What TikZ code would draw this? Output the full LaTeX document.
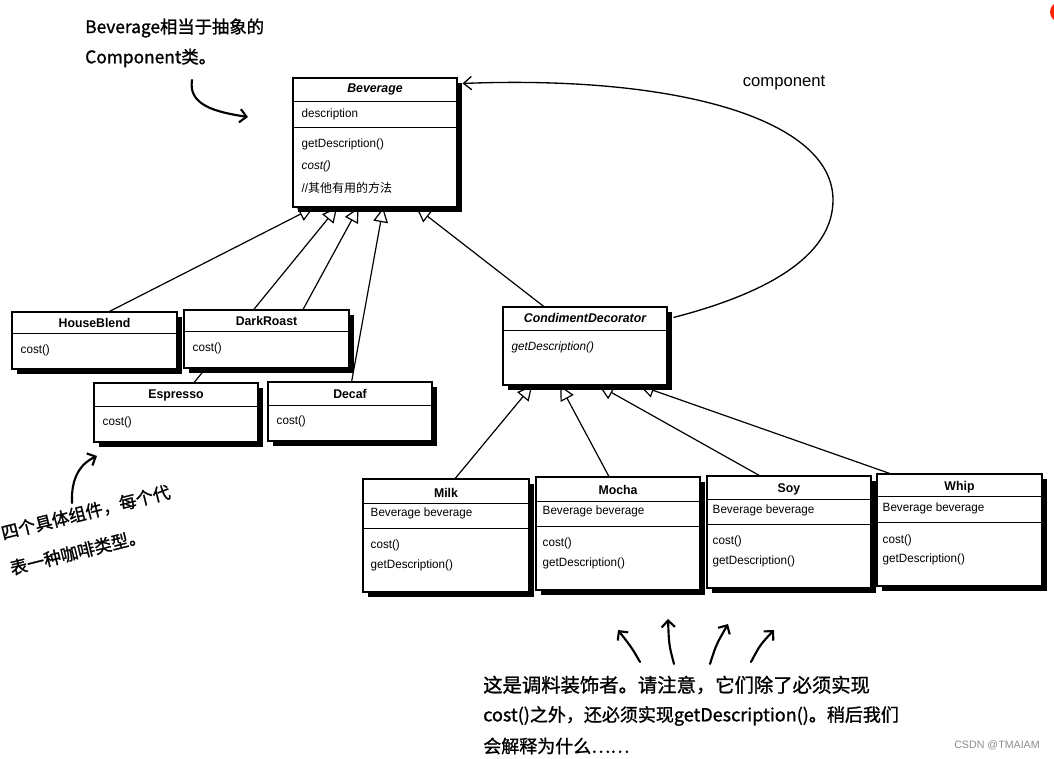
\documentclass[tikz,border=0pt]{standalone}
\usepackage{fontspec}
\setmainfont{Liberation Sans}
\newfontfamily\umlfont[FakeStretch=0.97]{Liberation Sans}
\newfontfamily\cjkfont{Noto Sans CJK SC}
\newfontfamily\handfont[FakeBold=1.2]{Noto Sans CJK SC}
\usetikzlibrary{arrows.meta,calc,fit,shadows,backgrounds}
\tikzset{
  classbox/.style={draw, line width=0.8pt, fill=white, inner sep=0pt,
    drop shadow={shadow xshift=3.5pt, shadow yshift=-3.5pt, fill=black, opacity=1}},
  classname/.style={font=\umlfont\fontsize{9.5}{11}\selectfont\bfseries, inner sep=0pt},
  abstractname/.style={font=\umlfont\fontsize{9.5}{11}\selectfont\bfseries\itshape, inner sep=0pt},
  member/.style={font=\umlfont\fontsize{9}{11}\selectfont, anchor=west, inner sep=0pt},
  sep/.style={line width=0.6pt},
  inherit/.style={line width=0.9pt, -{Triangle[fill=white, length=11pt, width=11pt]}},
  hand/.style={font=\handfont\fontsize{13}{16}\selectfont, inner sep=0pt, anchor=west},
  handarrow/.style={line width=1.6pt, line cap=round, -{Straight Barb[length=5pt, width=10pt]}},
}
\begin{document}
\begin{tikzpicture}[x=0.75pt, y=-0.75pt]
    \useasboundingbox (0,0) rectangle (1054,759);
    \fill[red!75!orange] (1060,12) circle [radius=10];

    % Beverage
    \node[classbox, fit={(293,78) (457,207)}] (bev) {};
    \node[abstractname] (bevname) at ($(bev.north)+(0,12)$) {Beverage};
    \draw[sep] ($(bev.north west)+(0,24)$) -- ($(bev.north east)+(0,24)$);
    \node[member] (bevattr) at ($(bev.north west)+(9,37)$) {description};
    \draw[sep] ($(bev.north west)+(0,50)$) -- ($(bev.north east)+(0,50)$);
    \node[member] (bevm1) at ($(bev.north west)+(9,67)$) {getDescription()};
    \node[member] (bevm2) at ($(bev.north west)+(9,89)$) {\itshape cost()};
    \node[member] (bevm3) at ($(bev.north west)+(9,110)$) {//{\cjkfont 其他有用的方法}};

    % concrete beverages
    \node[classbox, fit={(12,312) (177,369)}] (hb) {};
    \node[classname] (hbname) at ($(hb.north)+(0,12)$) {HouseBlend};
    \draw[sep] ($(hb.north west)+(0,22)$) -- ($(hb.north east)+(0,22)$);
    \node[member] (hbm1) at ($(hb.north west)+(9,39)$) {cost()};

    \node[classbox, fit={(184,310) (349,368)}] (dr) {};
    \node[classname] (drname) at ($(dr.north)+(0,12)$) {DarkRoast};
    \draw[sep] ($(dr.north west)+(0,22)$) -- ($(dr.north east)+(0,22)$);
    \node[member] (drm1) at ($(dr.north west)+(9,39)$) {cost()};

    \node[classbox, fit={(94,383) (258,442)}] (esp) {};
    \node[classname] (espname) at ($(esp.north)+(0,13)$) {Espresso};
    \draw[sep] ($(esp.north west)+(0,24)$) -- ($(esp.north east)+(0,24)$);
    \node[member] (espm1) at ($(esp.north west)+(9,40)$) {cost()};

    \node[classbox, fit={(268,382) (432,441)}] (dec) {};
    \node[classname] (decname) at ($(dec.north)+(0,13)$) {Decaf};
    \draw[sep] ($(dec.north west)+(0,24)$) -- ($(dec.north east)+(0,24)$);
    \node[member] (decm1) at ($(dec.north west)+(9,40)$) {cost()};

    % decorator
    \node[classbox, fit={(503,307) (667,385)}] (cd) {};
    \node[abstractname] (cdname) at ($(cd.north)+(0,12)$) {CondimentDecorator};
    \draw[sep] ($(cd.north west)+(0,24)$) -- ($(cd.north east)+(0,24)$);
    \node[member] (cdm1) at ($(cd.north west)+(9,41)$) {\itshape getDescription()};

    % condiments
    \node[classbox, fit={(363,479) (529,592)}] (milk) {};
    \node[classname] (milkname) at ($(milk.north)+(0,14)$) {Milk};
    \draw[sep] ($(milk.north west)+(0,25)$) -- ($(milk.north east)+(0,25)$);
    \node[member] (milkattr) at ($(milk.north west)+(8,35)$) {Beverage beverage};
    \draw[sep] ($(milk.north west)+(0,50)$) -- ($(milk.north east)+(0,50)$);
    \node[member] (milkm1) at ($(milk.north west)+(8,67)$) {cost()};
    \node[member] (milkm2) at ($(milk.north west)+(8,87)$) {getDescription()};

    \node[classbox, fit={(536,477) (700,590)}] (mocha) {};
    \node[classname] (mochaname) at ($(mocha.north)+(0,14)$) {Mocha};
    \draw[sep] ($(mocha.north west)+(0,25)$) -- ($(mocha.north east)+(0,25)$);
    \node[member] (mochaattr) at ($(mocha.north west)+(7,35)$) {Beverage beverage};
    \draw[sep] ($(mocha.north west)+(0,50)$) -- ($(mocha.north east)+(0,50)$);
    \node[member] (mocham1) at ($(mocha.north west)+(7,67)$) {cost()};
    \node[member] (mocham2) at ($(mocha.north west)+(7,87)$) {getDescription()};

    \node[classbox, fit={(707,476) (871,588)}] (soy) {};
    \node[classname] (soyname) at ($(soy.north)+(0,14)$) {Soy};
    \draw[sep] ($(soy.north west)+(0,24)$) -- ($(soy.north east)+(0,24)$);
    \node[member] (soyattr) at ($(soy.north west)+(6,35)$) {Beverage beverage};
    \draw[sep] ($(soy.north west)+(0,49)$) -- ($(soy.north east)+(0,49)$);
    \node[member] (soym1) at ($(soy.north west)+(6,66)$) {cost()};
    \node[member] (soym2) at ($(soy.north west)+(6,86)$) {getDescription()};

    \node[classbox, fit={(877,474) (1042,586)}] (whip) {};
    \node[classname] (whipname) at ($(whip.north)+(0,14)$) {Whip};
    \draw[sep] ($(whip.north west)+(0,23)$) -- ($(whip.north east)+(0,23)$);
    \node[member] (whipattr) at ($(whip.north west)+(6,35)$) {Beverage beverage};
    \draw[sep] ($(whip.north west)+(0,49)$) -- ($(whip.north east)+(0,49)$);
    \node[member] (whipm1) at ($(whip.north west)+(6,67)$) {cost()};
    \node[member] (whipm2) at ($(whip.north west)+(6,86)$) {getDescription()};

    % inheritance and the component link, behind the boxes
    \begin{scope}[on background layer]
    \draw[inherit] ($(hb.north west)!0.59!(hb.north east)$) -- ($(bev.south west)!0.127!(bev.south east)$);
    \draw[inherit] ($(esp.north west)!0.61!(esp.north east)$) -- ($(bev.south west)!0.27!(bev.south east)$);
    \draw[inherit] ($(dr.north west)!0.72!(dr.north east)$) -- ($(bev.south west)!0.40!(bev.south east)$);
    \draw[inherit] ($(dec.north west)!0.51!(dec.north east)$) -- ($(bev.south west)!0.55!(bev.south east)$);
    \draw[inherit] ($(cd.north west)!0.25!(cd.north east)$) -- ($(bev.south west)!0.75!(bev.south east)$);
    \draw[inherit] ($(milk.north west)!0.555!(milk.north east)$) -- ($(cd.south west)!0.18!(cd.south east)$);
    \draw[inherit] ($(mocha.north west)!0.445!(mocha.north east)$) -- ($(cd.south west)!0.35!(cd.south east)$);
    \draw[inherit] ($(soy.north west)!0.32!(soy.north east)$) -- ($(cd.south west)!0.585!(cd.south east)$);
    \draw[inherit] ($(whip.north west)!0.08!(whip.north east)$) -- ($(cd.south west)!0.83!(cd.south east)$);
    \draw[line width=1pt, -{Straight Barb[length=6pt, width=10pt]}]
        ($(cd.north east)+(6,11)$) .. controls (780,290) and (833,250) .. (833,200)
        .. controls (833,120) and (680,75) .. ($(bev.north east)+(5,6)$);
    \end{scope}
    \node[font=\fontsize{12.5}{14}\selectfont] (complabel) at (784,83) {component};

    % notes
    \node[hand] (note1a) at (85,28) {Beverage相当于抽象的};
    \node[hand] (note1b) at (85,58) {Component类。};
    \coordinate (n1from) at (192,80);
    \coordinate (n1to) at (248,117);
    \draw[handarrow] (n1from) .. controls (188,105) and (215,112) .. (n1to);

    \node[hand, anchor=center, rotate=14, align=left,
          font=\handfont\fontsize{13}{27.3}\selectfont] (note2) at (90,530)
          {四个具体组件，每个代\\表一种咖啡类型。};
    \coordinate (n2from) at (72,503);
    \coordinate (n2to) at (97,456);
    \draw[handarrow] (n2from) .. controls (71,478) and (80,464) .. (n2to);

    \node[hand, font=\handfont\fontsize{14.5}{16}\selectfont] (note3a) at (483,685) {这是调料装饰者。请注意，它们除了必须实现};
    \node[hand, font=\handfont\fontsize{13.5}{16}\selectfont] (note3b) at (483,716) {cost()之外，还必须实现getDescription()。稍后我们};
    \node[hand, font=\handfont\fontsize{13.5}{16}\selectfont] (note3c) at (483,746) {会解释为什么……};
    \coordinate (n3a) at (640,662);
    \coordinate (n3b) at (674,664);
    \coordinate (n3c) at (710,664);
    \coordinate (n3d) at (751,662);
    \draw[handarrow] (n3a) .. controls (632,648) .. (618,630);
    \draw[handarrow] (n3b) .. controls (669,645) .. (668,619);
    \draw[handarrow] (n3c) .. controls (716,645) .. (728,624);
    \draw[handarrow] (n3d) .. controls (760,645) .. (774,630);

    \node[text=black!45, font=\fontsize{8}{10}\selectfont] (mark) at (997,745) {CSDN @TMAIAM};
\end{tikzpicture}
\end{document}
